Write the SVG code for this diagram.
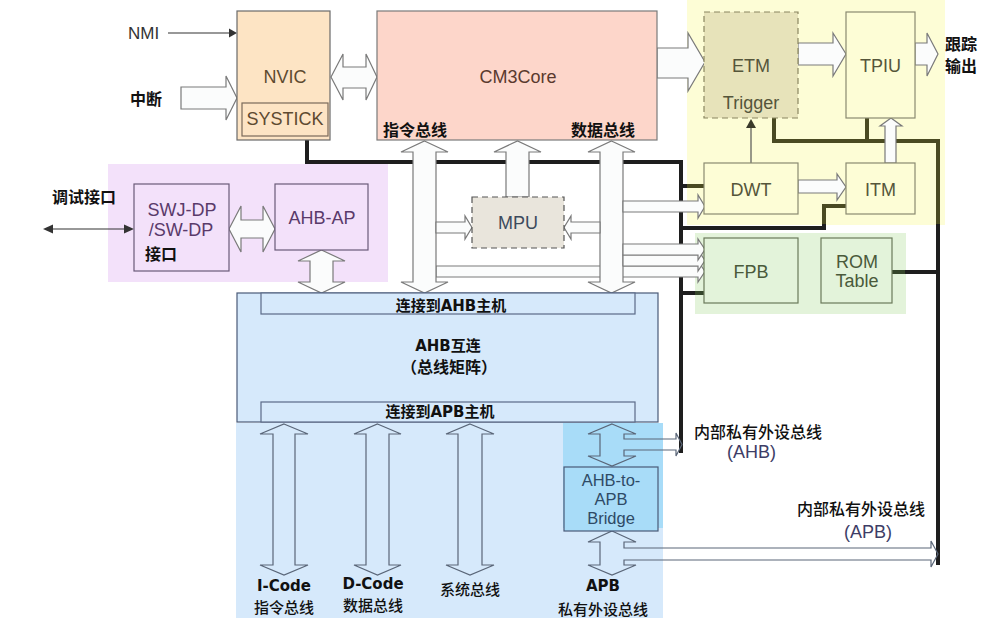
<svg xmlns="http://www.w3.org/2000/svg" width="995" height="636" viewBox="0 0 995 636">
<style>
.lbl{font-family:"Liberation Sans",Arial,sans-serif;font-size:18px;text-anchor:middle}
.brg{font-family:"Liberation Sans",Arial,sans-serif;font-size:16.5px;text-anchor:middle;fill:#2e4a66}
.cn{font-family:"Noto Sans CJK SC",sans-serif;font-weight:bold;font-size:16px;fill:#111}
.cnm{font-family:"Noto Sans CJK SC",sans-serif;font-weight:500;font-size:16px;fill:#111}
.cnb{font-family:"Noto Sans CJK SC",sans-serif;font-weight:500;font-size:15px;fill:#111;text-anchor:middle}
.cnv{font-family:"DejaVu Sans","Noto Sans CJK SC",sans-serif;font-weight:bold;font-size:15px;fill:#111;text-anchor:middle}
.ha{fill:#fbfcfc;stroke:#7a7a7a;stroke-width:1.2}
.hb{fill:none;stroke:#5a6678;stroke-width:1.2}
.bk{fill:none;stroke:#1e1e1e;stroke-width:4}
.ol{fill:none;stroke:#4a4a22;stroke-width:4}
.gn{fill:none;stroke:#34452a;stroke-width:4}
</style>
<g id="regions">
<rect x="687" y="0" width="258" height="225" fill="#fdfdd6"/>
<rect x="108" y="164" width="280" height="118" fill="#f3e1fa"/>
<rect x="695" y="233" width="211" height="81" fill="#e3f3da"/>
<rect x="236" y="423" width="427" height="195" fill="#d6e9fb"/>
<rect x="563" y="423" width="100" height="105" fill="#a8dcf8"/>
</g>
<g id="connectors">
<path class="bk" d="M307,140 V162 H681 V453"/>
<path class="bk" d="M681,186 H688"/>
<path class="ol" d="M687,186 H704"/>
<path class="bk" d="M681,293 H696"/>
<path class="gn" d="M695,293 H704"/>
<path class="ol" d="M846,206 H824 V226"/>
<path class="bk" d="M824,224 V228 H681"/>
<path class="ol" d="M774,118 V141 H938 V226"/>
<path class="ol" d="M867,118 V141"/>
<path class="bk" d="M938,224 V565"/>
<path class="gn" d="M892,272 H906"/>
<path class="bk" d="M905,272 H938"/>
<line x1="168" y1="33" x2="230" y2="33" stroke="#333" stroke-width="1.2"/>
<polygon points="229,28.5 237,33 229,37.5" fill="#333"/>
<line x1="50" y1="229" x2="126" y2="229" stroke="#333" stroke-width="1.2"/>
<polygon points="43,229 53,224.5 53,233.5" fill="#333"/>
<polygon points="134,229 124,224.5 124,233.5" fill="#333"/>
<line x1="751" y1="163" x2="751" y2="127" stroke="#555" stroke-width="1.2"/>
<polygon points="746,128 756,128 751,119" fill="#3a3a2a"/>
<polygon class="ha" points="331,77 343,54 343,67 366,67 366,54 377,77 366,100 366,88 343,88 343,100"/>
<polygon class="ha" points="181,87 226,87 226,76 237,98 226,120 226,109 181,109"/>
<polygon class="ha" points="657,48 688,48 688,33 705,62 688,91 688,78 657,78"/>
<polygon class="ha" points="798,43 833,43 833,33 846,54 833,76 833,65 798,65"/>
<polygon class="ha" points="915,43 927,43 927,33 938,54 927,76 927,65 915,65"/>
<polygon class="ha" points="798,180 837,180 837,174 846,187 837,200 837,193 798,193"/>
<polygon class="ha" points="885,163 885,126 880,126 891,118 902,126 896,126 896,163"/>
<polygon class="ha" points="436,266 698,266 698,261 705,271.5 698,282 698,277 436,277"/>
<polygon class="ha" points="424.5,141 448,152 436,152 436,282 448,282 424.5,293 401,282 413,282 413,152 401,152"/>
<polygon class="ha" points="611.5,141 635,152 623,152 623,282 635,282 611.5,293 588,282 600,282 600,152 588,152"/>
<polygon class="ha" points="506,197 506,152 494,152 517.5,141 541,152 529,152 529,197"/>
<polygon class="ha" points="436,222 465,222 465,216 472,227.5 465,239 465,233 436,233"/>
<polygon class="ha" points="600,222 571,222 571,216 564,227.5 571,239 571,233 600,233"/>
<polygon class="ha" points="623,201 698,201 698,195 705,206.5 698,218 698,212 623,212"/>
<polygon class="ha" points="623,255 698,255 698,250 705,260.5 698,271 698,266 623,266"/>
<polygon class="ha" points="623,244 698,244 698,239 705,249.5 698,260 698,255 623,255"/>
<polygon class="ha" points="321.5,250 345,261 333,261 333,282 345,282 321.5,293 298,282 310,282 310,261 298,261"/>
<polygon class="ha" points="229,229 241,206 241,220 263,220 263,206 275,229 263,252 263,238 241,238 241,252"/>
<polygon class="hb" points="284,424 308,434 295,434 295,565 308,565 284,575 260,565 273,565 273,434 260,434"/>
<polygon class="hb" points="377.5,424 401,434 389,434 389,565 401,565 377.5,575 354,565 366,565 366,434 354,434"/>
<polygon class="hb" points="470,424 494,434 482,434 482,565 494,565 470,575 446,565 458,565 458,434 446,434"/>
<polygon class="hb" points="612,424 636,434 624,434 624,439 676,439 676,433 682,444.5 676,456 676,450 624,450 624,456 636,456 612,466 588,456 600,456 600,434 588,434"/>
<polygon class="hb" points="612,531 636,542 624,542 624,548 931,548 931,541 938,554 931,567 931,560 624,560 624,565 636,565 612,575 588,565 600,565 600,542 588,542"/>
</g>
<g id="nvic">
<rect x="237" y="11" width="93" height="129" fill="#fde4c4" stroke="#6a6a6a" stroke-width="1.2"/>
<text class="lbl" x="285" y="83" fill="#5e4a30">NVIC</text>
</g>
<g id="systick">
<rect x="242" y="103" width="86" height="33" fill="#fde4c4" stroke="#7a6a5a" stroke-width="1.2"/>
<text class="lbl" x="285" y="125" fill="#5e4a30">SYSTICK</text>
</g>
<g id="cm3core">
<rect x="377" y="11" width="280" height="129" fill="#fdd6ca" stroke="#7a7a7a" stroke-width="1.2"/>
<text class="lbl" x="518" y="83" fill="#5a3a2e">CM3Core</text>
<text class="cn" x="383" y="136">指令总线</text>
<text class="cn" x="571" y="136">数据总线</text>
</g>
<g id="etm">
<rect x="704" y="12" width="94" height="106" fill="#e7e3ba" stroke="#8a8660" stroke-width="1.2" stroke-dasharray="6,4"/>
<text class="lbl" x="751" y="72" fill="#55553a">ETM</text>
<text class="lbl" x="751" y="108.5" fill="#55553a">Trigger</text>
</g>
<g id="tpiu">
<rect x="846" y="12" width="69" height="106" fill="#fdfdd6" stroke="#8a8a70" stroke-width="1.2"/>
<text class="lbl" x="880.5" y="72" fill="#55553a">TPIU</text>
</g>
<g id="trace-out">
<text class="cn" x="945" y="49.5">跟踪</text>
<text class="cn" x="945" y="72">输出</text>
</g>
<g id="dwt">
<rect x="704" y="163" width="94" height="51" fill="#fdfdd6" stroke="#8a8a70" stroke-width="1.2"/>
<text class="lbl" x="751" y="195.5" fill="#55553a">DWT</text>
</g>
<g id="itm">
<rect x="846" y="163" width="69" height="51" fill="#fdfdd6" stroke="#8a8a70" stroke-width="1.2"/>
<text class="lbl" x="880.5" y="195.5" fill="#55553a">ITM</text>
</g>
<g id="fpb">
<rect x="704" y="238" width="94" height="65" fill="#e3f3da" stroke="#6a7a5a" stroke-width="1.2"/>
<text class="lbl" x="751" y="277.5" fill="#4a5a3a">FPB</text>
</g>
<g id="rom">
<rect x="821" y="238" width="71" height="65" fill="#e3f3da" stroke="#6a7a5a" stroke-width="1.2"/>
<text class="lbl" x="857" y="268" fill="#4a5a3a">ROM</text>
<text class="lbl" x="857" y="286.5" fill="#4a5a3a">Table</text>
</g>
<g id="mpu">
<rect x="472" y="197" width="92" height="51" fill="#e9e5dc" stroke="#555" stroke-width="1.2" stroke-dasharray="6,4"/>
<text class="lbl" x="518" y="228.5" fill="#3c4a5c">MPU</text>
</g>
<g id="nmi-label"><text x="128" y="39" font-family="Liberation Sans,Arial,sans-serif" font-size="17" fill="#333">NMI</text></g>
<g id="irq-label"><text class="cn" x="130" y="105">中断</text></g>
<g id="debug-label"><text class="cn" x="52" y="203">调试接口</text></g>
<g id="swj-dp">
<rect x="134" y="184" width="95" height="87" fill="#f3e1fa" stroke="#6a5a78" stroke-width="1.2"/>
<text class="lbl" x="182" y="215.5" fill="#5a3a6a">SWJ-DP</text>
<text class="lbl" x="181" y="235.5" fill="#5a3a6a">/SW-DP</text>
<text class="cn" x="145" y="259.5">接口</text>
</g>
<g id="ahb-ap">
<rect x="275" y="184" width="93" height="66" fill="#f3e1fa" stroke="#6a5a78" stroke-width="1.2"/>
<text class="lbl" x="322" y="224" fill="#5a3a6a">AHB-AP</text>
</g>
<g id="ahb">
<rect x="237" y="293" width="421" height="129" fill="#d6e9fb" stroke="#4a5a78" stroke-width="1.2"/>
<rect x="261" y="293" width="374" height="21" fill="#d6e9fb" stroke="#5a6a88" stroke-width="1.2"/>
<rect x="261" y="402" width="374" height="20" fill="#d6e9fb" stroke="#5a6a88" stroke-width="1.2"/>
<text class="cnv" x="451" y="310.5">连接到AHB主机</text>
<text class="cnv" x="448" y="350.5">AHB互连</text>
<text class="cnv" x="449" y="373" style="font-size:16px">（总线矩阵）</text>
<text class="cnv" x="440" y="416.5">连接到APB主机</text>
</g>
<g id="bridge">
<rect x="564" y="467" width="94" height="64" fill="#a8dcf8" stroke="#4a5a78" stroke-width="1.2"/>
<text class="brg" x="611" y="486">AHB-to-</text>
<text class="brg" x="611" y="505">APB</text>
<text class="brg" x="611" y="524">Bridge</text>
</g>
<g id="bus-labels">
<text class="cnv" x="284" y="591">I-Code</text>
<text class="cnb" x="284" y="613">指令总线</text>
<text class="cnv" x="373" y="589">D-Code</text>
<text class="cnb" x="373" y="611">数据总线</text>
<text class="cnb" x="470" y="594.5">系统总线</text>
<text class="cnv" x="603" y="591">APB</text>
<text class="cnb" x="603" y="614.5">私有外设总线</text>
<text class="cnm" x="694" y="437.5">内部私有外设总线</text>
<text x="727" y="458" font-family="Liberation Sans,Arial,sans-serif" font-size="18" fill="#3d3d66">(AHB)</text>
<text class="cnm" x="797" y="515">内部私有外设总线</text>
<text x="844" y="538" font-family="Liberation Sans,Arial,sans-serif" font-size="18" fill="#3d3d66">(APB)</text>
</g>
</svg>
